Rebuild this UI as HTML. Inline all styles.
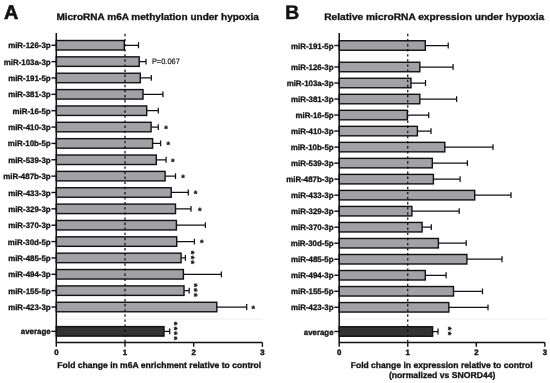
<!DOCTYPE html>
<html><head><meta charset="utf-8"><title>Figure</title>
<style>html,body{margin:0;padding:0;background:#fff}svg{display:block}</style></head>
<body>
<svg width="550" height="383" viewBox="0 0 550 383" font-family="'Liberation Sans', Arial, sans-serif" fill="#111">
<style>text{text-rendering:geometricPrecision;stroke:#111;stroke-width:0.3px;paint-order:stroke fill}text.thin{stroke:#262626;stroke-width:0.22px}text.tk{stroke-width:0.45px}text.big{stroke-width:0.35px}text.star{stroke-width:0.3px}</style>
<rect width="550" height="383" fill="#fff"/>
<text x="3.9" y="18.7" class="big" style="stroke-width:0.6px" font-size="19.8" font-weight="bold">A</text>
<text x="284.9" y="18.7" class="big" font-size="19.8" font-weight="bold">B</text>
<text x="56.4" y="19.9" font-size="9.5" font-weight="bold" textLength="202.5" lengthAdjust="spacingAndGlyphs">MicroRNA m6A methylation under hypoxia</text>
<text x="324.2" y="19.8" font-size="9.5" font-weight="bold" textLength="220" lengthAdjust="spacingAndGlyphs">Relative microRNA expression under hypoxia</text>
<line x1="58.3" y1="319.1" x2="263.40000000000003" y2="319.1" stroke="#e3e3e3" stroke-width="0.8" stroke-dasharray="2 0.6"/>
<path d="M124.5 45.25H138.5M138.5 42.35V48.15" stroke="#111111" stroke-width="1.25" fill="none"/>
<rect x="56.3" y="40.50" width="68.00" height="9.5" fill="#a2a1a5" stroke="#111111" stroke-width="1.4"/>
<line x1="51.40" y1="45.25" x2="56.3" y2="45.25" stroke="#111111" stroke-width="1.4"/>
<text x="50.70" y="48.30" text-anchor="end" font-size="7.9" font-weight="bold">miR-126-3p</text>
<path d="M139.4 61.61H146M146 58.71V64.51" stroke="#111111" stroke-width="1.25" fill="none"/>
<rect x="56.3" y="56.86" width="82.90" height="9.5" fill="#a2a1a5" stroke="#111111" stroke-width="1.4"/>
<line x1="51.40" y1="61.61" x2="56.3" y2="61.61" stroke="#111111" stroke-width="1.4"/>
<text x="50.70" y="64.66" text-anchor="end" font-size="7.9" font-weight="bold">miR-103a-3p</text>
<path d="M140.5 77.97H151.3M151.3 75.07V80.87" stroke="#111111" stroke-width="1.25" fill="none"/>
<rect x="56.3" y="73.22" width="84.00" height="9.5" fill="#a2a1a5" stroke="#111111" stroke-width="1.4"/>
<line x1="51.40" y1="77.97" x2="56.3" y2="77.97" stroke="#111111" stroke-width="1.4"/>
<text x="50.70" y="81.02" text-anchor="end" font-size="7.9" font-weight="bold">miR-191-5p</text>
<path d="M143.2 94.33H162.9M162.9 91.42999999999999V97.23" stroke="#111111" stroke-width="1.25" fill="none"/>
<rect x="56.3" y="89.58" width="86.70" height="9.5" fill="#a2a1a5" stroke="#111111" stroke-width="1.4"/>
<line x1="51.40" y1="94.33" x2="56.3" y2="94.33" stroke="#111111" stroke-width="1.4"/>
<text x="50.70" y="97.38" text-anchor="end" font-size="7.9" font-weight="bold">miR-381-3p</text>
<path d="M146.9 110.69H158.3M158.3 107.78999999999999V113.59" stroke="#111111" stroke-width="1.25" fill="none"/>
<rect x="56.3" y="105.94" width="90.40" height="9.5" fill="#a2a1a5" stroke="#111111" stroke-width="1.4"/>
<line x1="51.40" y1="110.69" x2="56.3" y2="110.69" stroke="#111111" stroke-width="1.4"/>
<text x="50.70" y="113.74" text-anchor="end" font-size="7.9" font-weight="bold">miR-16-5p</text>
<path d="M151.3 127.05H158.3M158.3 124.14999999999999V129.95" stroke="#111111" stroke-width="1.25" fill="none"/>
<rect x="56.3" y="122.30" width="94.80" height="9.5" fill="#a2a1a5" stroke="#111111" stroke-width="1.4"/>
<line x1="51.40" y1="127.05" x2="56.3" y2="127.05" stroke="#111111" stroke-width="1.4"/>
<text x="50.70" y="130.10" text-anchor="end" font-size="7.9" font-weight="bold">miR-410-3p</text>
<path d="M152.8 143.41H160.6M160.6 140.51V146.31" stroke="#111111" stroke-width="1.25" fill="none"/>
<rect x="56.3" y="138.66" width="96.30" height="9.5" fill="#a2a1a5" stroke="#111111" stroke-width="1.4"/>
<line x1="51.40" y1="143.41" x2="56.3" y2="143.41" stroke="#111111" stroke-width="1.4"/>
<text x="50.70" y="146.46" text-anchor="end" font-size="7.9" font-weight="bold">miR-10b-5p</text>
<path d="M156.5 159.76999999999998H166.1M166.1 156.86999999999998V162.67" stroke="#111111" stroke-width="1.25" fill="none"/>
<rect x="56.3" y="155.02" width="100.00" height="9.5" fill="#a2a1a5" stroke="#111111" stroke-width="1.4"/>
<line x1="51.40" y1="159.77" x2="56.3" y2="159.77" stroke="#111111" stroke-width="1.4"/>
<text x="50.70" y="162.82" text-anchor="end" font-size="7.9" font-weight="bold">miR-539-3p</text>
<path d="M165.3 176.13H175.5M175.5 173.23V179.03" stroke="#111111" stroke-width="1.25" fill="none"/>
<rect x="56.3" y="171.38" width="108.80" height="9.5" fill="#a2a1a5" stroke="#111111" stroke-width="1.4"/>
<line x1="51.40" y1="176.13" x2="56.3" y2="176.13" stroke="#111111" stroke-width="1.4"/>
<text x="50.70" y="179.18" text-anchor="end" font-size="7.9" font-weight="bold">miR-487b-3p</text>
<path d="M171.4 192.49H188.3M188.3 189.59V195.39000000000001" stroke="#111111" stroke-width="1.25" fill="none"/>
<rect x="56.3" y="187.74" width="114.90" height="9.5" fill="#a2a1a5" stroke="#111111" stroke-width="1.4"/>
<line x1="51.40" y1="192.49" x2="56.3" y2="192.49" stroke="#111111" stroke-width="1.4"/>
<text x="50.70" y="195.54" text-anchor="end" font-size="7.9" font-weight="bold">miR-433-3p</text>
<path d="M175.7 208.85H191.0M191.0 205.95V211.75" stroke="#111111" stroke-width="1.25" fill="none"/>
<rect x="56.3" y="204.10" width="119.20" height="9.5" fill="#a2a1a5" stroke="#111111" stroke-width="1.4"/>
<line x1="51.40" y1="208.85" x2="56.3" y2="208.85" stroke="#111111" stroke-width="1.4"/>
<text x="50.70" y="211.90" text-anchor="end" font-size="7.9" font-weight="bold">miR-329-3p</text>
<path d="M176.6 225.20999999999998H205.4M205.4 222.30999999999997V228.10999999999999" stroke="#111111" stroke-width="1.25" fill="none"/>
<rect x="56.3" y="220.46" width="120.10" height="9.5" fill="#a2a1a5" stroke="#111111" stroke-width="1.4"/>
<line x1="51.40" y1="225.21" x2="56.3" y2="225.21" stroke="#111111" stroke-width="1.4"/>
<text x="50.70" y="228.26" text-anchor="end" font-size="7.9" font-weight="bold">miR-370-3p</text>
<path d="M176.9 241.57H194.4M194.4 238.67V244.47" stroke="#111111" stroke-width="1.25" fill="none"/>
<rect x="56.3" y="236.82" width="120.40" height="9.5" fill="#a2a1a5" stroke="#111111" stroke-width="1.4"/>
<line x1="51.40" y1="241.57" x2="56.3" y2="241.57" stroke="#111111" stroke-width="1.4"/>
<text x="50.70" y="244.62" text-anchor="end" font-size="7.9" font-weight="bold">miR-30d-5p</text>
<path d="M181.3 257.93H185.4M185.4 255.03V260.83" stroke="#111111" stroke-width="1.25" fill="none"/>
<rect x="56.3" y="253.18" width="124.80" height="9.5" fill="#a2a1a5" stroke="#111111" stroke-width="1.4"/>
<line x1="51.40" y1="257.93" x2="56.3" y2="257.93" stroke="#111111" stroke-width="1.4"/>
<text x="50.70" y="260.98" text-anchor="end" font-size="7.9" font-weight="bold">miR-485-5p</text>
<path d="M183.6 274.28999999999996H221.4M221.4 271.39V277.18999999999994" stroke="#111111" stroke-width="1.25" fill="none"/>
<rect x="56.3" y="269.54" width="127.10" height="9.5" fill="#a2a1a5" stroke="#111111" stroke-width="1.4"/>
<line x1="51.40" y1="274.29" x2="56.3" y2="274.29" stroke="#111111" stroke-width="1.4"/>
<text x="50.70" y="277.34" text-anchor="end" font-size="7.9" font-weight="bold">miR-494-3p</text>
<path d="M184.2 290.65H189.2M189.2 287.75V293.54999999999995" stroke="#111111" stroke-width="1.25" fill="none"/>
<rect x="56.3" y="285.90" width="127.70" height="9.5" fill="#a2a1a5" stroke="#111111" stroke-width="1.4"/>
<line x1="51.40" y1="290.65" x2="56.3" y2="290.65" stroke="#111111" stroke-width="1.4"/>
<text x="50.70" y="293.70" text-anchor="end" font-size="7.9" font-weight="bold">miR-155-5p</text>
<path d="M217 307.01H246.7M246.7 304.11V309.90999999999997" stroke="#111111" stroke-width="1.25" fill="none"/>
<rect x="56.3" y="302.26" width="160.50" height="9.5" fill="#a2a1a5" stroke="#111111" stroke-width="1.4"/>
<line x1="51.40" y1="307.01" x2="56.3" y2="307.01" stroke="#111111" stroke-width="1.4"/>
<text x="50.70" y="310.06" text-anchor="end" font-size="7.9" font-weight="bold">miR-423-3p</text>
<path d="M164.2 331.35H169.7M169.7 328.45000000000005V334.25" stroke="#111111" stroke-width="1.25" fill="none"/>
<rect x="56.3" y="326.60" width="107.70" height="9.5" fill="#333333" stroke="#111111" stroke-width="1.4"/>
<line x1="51.40" y1="331.35" x2="56.3" y2="331.35" stroke="#111111" stroke-width="1.4"/>
<text x="50.70" y="334.40" text-anchor="end" font-size="7.9" font-weight="bold">average</text>
<line x1="125.00" y1="33.800000000000004" x2="125.00" y2="342.5" stroke="#111111" stroke-width="1.25" stroke-dasharray="2.4 2.7"/>
<path d="M56.3 33.1V342.5H262.40000000000003" stroke="#111111" stroke-width="1.5" fill="none"/>
<line x1="56.3" y1="342.5" x2="56.3" y2="346.8" stroke="#111111" stroke-width="1.4"/>
<text class="tk" x="56.3" y="355.3" text-anchor="middle" font-size="7.8" font-weight="bold">0</text>
<line x1="125.0" y1="342.5" x2="125.0" y2="346.8" stroke="#111111" stroke-width="1.4"/>
<text class="tk" x="125.0" y="355.3" text-anchor="middle" font-size="7.8" font-weight="bold">1</text>
<line x1="193.7" y1="342.5" x2="193.7" y2="346.8" stroke="#111111" stroke-width="1.4"/>
<text class="tk" x="193.7" y="355.3" text-anchor="middle" font-size="7.8" font-weight="bold">2</text>
<line x1="262.40000000000003" y1="342.5" x2="262.40000000000003" y2="346.8" stroke="#111111" stroke-width="1.4"/>
<text class="tk" x="262.40000000000003" y="355.3" text-anchor="middle" font-size="7.8" font-weight="bold">3</text>
<line x1="341.2" y1="319.1" x2="545.8499999999999" y2="319.1" stroke="#e3e3e3" stroke-width="0.8" stroke-dasharray="2 0.6"/>
<path d="M425.5 45.5H448.2M448.2 42.6V48.4" stroke="#111111" stroke-width="1.25" fill="none"/>
<rect x="339.2" y="40.75" width="86.10" height="9.5" fill="#a2a1a5" stroke="#111111" stroke-width="1.4"/>
<line x1="334.30" y1="45.50" x2="339.2" y2="45.50" stroke="#111111" stroke-width="1.4"/>
<text x="333.60" y="48.55" text-anchor="end" font-size="7.9" font-weight="bold">miR-191-5p</text>
<path d="M420 67.0H453.1M453.1 64.1V69.9" stroke="#111111" stroke-width="1.25" fill="none"/>
<rect x="339.2" y="62.25" width="80.60" height="9.5" fill="#a2a1a5" stroke="#111111" stroke-width="1.4"/>
<line x1="334.30" y1="67.00" x2="339.2" y2="67.00" stroke="#111111" stroke-width="1.4"/>
<text x="333.60" y="70.05" text-anchor="end" font-size="7.9" font-weight="bold">miR-126-3p</text>
<path d="M411.2 83.02H425.5M425.5 80.11999999999999V85.92" stroke="#111111" stroke-width="1.25" fill="none"/>
<rect x="339.2" y="78.27" width="71.80" height="9.5" fill="#a2a1a5" stroke="#111111" stroke-width="1.4"/>
<line x1="334.30" y1="83.02" x2="339.2" y2="83.02" stroke="#111111" stroke-width="1.4"/>
<text x="333.60" y="86.07" text-anchor="end" font-size="7.9" font-weight="bold">miR-103a-3p</text>
<path d="M420 99.03999999999999H456.6M456.6 96.13999999999999V101.94" stroke="#111111" stroke-width="1.25" fill="none"/>
<rect x="339.2" y="94.29" width="80.60" height="9.5" fill="#a2a1a5" stroke="#111111" stroke-width="1.4"/>
<line x1="334.30" y1="99.04" x2="339.2" y2="99.04" stroke="#111111" stroke-width="1.4"/>
<text x="333.60" y="102.09" text-anchor="end" font-size="7.9" font-weight="bold">miR-381-3p</text>
<path d="M407.5 115.06H428.7M428.7 112.16V117.96000000000001" stroke="#111111" stroke-width="1.25" fill="none"/>
<rect x="339.2" y="110.31" width="68.10" height="9.5" fill="#a2a1a5" stroke="#111111" stroke-width="1.4"/>
<line x1="334.30" y1="115.06" x2="339.2" y2="115.06" stroke="#111111" stroke-width="1.4"/>
<text x="333.60" y="118.11" text-anchor="end" font-size="7.9" font-weight="bold">miR-16-5p</text>
<path d="M417.6 131.07999999999998H431M431 128.17999999999998V133.98" stroke="#111111" stroke-width="1.25" fill="none"/>
<rect x="339.2" y="126.33" width="78.20" height="9.5" fill="#a2a1a5" stroke="#111111" stroke-width="1.4"/>
<line x1="334.30" y1="131.08" x2="339.2" y2="131.08" stroke="#111111" stroke-width="1.4"/>
<text x="333.60" y="134.13" text-anchor="end" font-size="7.9" font-weight="bold">miR-410-3p</text>
<path d="M445 147.1H493M493 144.2V150.0" stroke="#111111" stroke-width="1.25" fill="none"/>
<rect x="339.2" y="142.35" width="105.60" height="9.5" fill="#a2a1a5" stroke="#111111" stroke-width="1.4"/>
<line x1="334.30" y1="147.10" x2="339.2" y2="147.10" stroke="#111111" stroke-width="1.4"/>
<text x="333.60" y="150.15" text-anchor="end" font-size="7.9" font-weight="bold">miR-10b-5p</text>
<path d="M432.5 163.12H467.4M467.4 160.22V166.02" stroke="#111111" stroke-width="1.25" fill="none"/>
<rect x="339.2" y="158.37" width="93.10" height="9.5" fill="#a2a1a5" stroke="#111111" stroke-width="1.4"/>
<line x1="334.30" y1="163.12" x2="339.2" y2="163.12" stroke="#111111" stroke-width="1.4"/>
<text x="333.60" y="166.17" text-anchor="end" font-size="7.9" font-weight="bold">miR-539-3p</text>
<path d="M433.6 179.14H460.1M460.1 176.23999999999998V182.04" stroke="#111111" stroke-width="1.25" fill="none"/>
<rect x="339.2" y="174.39" width="94.20" height="9.5" fill="#a2a1a5" stroke="#111111" stroke-width="1.4"/>
<line x1="334.30" y1="179.14" x2="339.2" y2="179.14" stroke="#111111" stroke-width="1.4"/>
<text x="333.60" y="182.19" text-anchor="end" font-size="7.9" font-weight="bold">miR-487b-3p</text>
<path d="M474.9 195.16H511M511 192.26V198.06" stroke="#111111" stroke-width="1.25" fill="none"/>
<rect x="339.2" y="190.41" width="135.50" height="9.5" fill="#a2a1a5" stroke="#111111" stroke-width="1.4"/>
<line x1="334.30" y1="195.16" x2="339.2" y2="195.16" stroke="#111111" stroke-width="1.4"/>
<text x="333.60" y="198.21" text-anchor="end" font-size="7.9" font-weight="bold">miR-433-3p</text>
<path d="M412.1 211.18H459.2M459.2 208.28V214.08" stroke="#111111" stroke-width="1.25" fill="none"/>
<rect x="339.2" y="206.43" width="72.70" height="9.5" fill="#a2a1a5" stroke="#111111" stroke-width="1.4"/>
<line x1="334.30" y1="211.18" x2="339.2" y2="211.18" stroke="#111111" stroke-width="1.4"/>
<text x="333.60" y="214.23" text-anchor="end" font-size="7.9" font-weight="bold">miR-329-3p</text>
<path d="M422.3 227.2H431.3M431.3 224.29999999999998V230.1" stroke="#111111" stroke-width="1.25" fill="none"/>
<rect x="339.2" y="222.45" width="82.90" height="9.5" fill="#a2a1a5" stroke="#111111" stroke-width="1.4"/>
<line x1="334.30" y1="227.20" x2="339.2" y2="227.20" stroke="#111111" stroke-width="1.4"/>
<text x="333.60" y="230.25" text-anchor="end" font-size="7.9" font-weight="bold">miR-370-3p</text>
<path d="M438.6 243.22H466.2M466.2 240.32V246.12" stroke="#111111" stroke-width="1.25" fill="none"/>
<rect x="339.2" y="238.47" width="99.20" height="9.5" fill="#a2a1a5" stroke="#111111" stroke-width="1.4"/>
<line x1="334.30" y1="243.22" x2="339.2" y2="243.22" stroke="#111111" stroke-width="1.4"/>
<text x="333.60" y="246.27" text-anchor="end" font-size="7.9" font-weight="bold">miR-30d-5p</text>
<path d="M467.1 259.24H502M502 256.34000000000003V262.14" stroke="#111111" stroke-width="1.25" fill="none"/>
<rect x="339.2" y="254.49" width="127.70" height="9.5" fill="#a2a1a5" stroke="#111111" stroke-width="1.4"/>
<line x1="334.30" y1="259.24" x2="339.2" y2="259.24" stroke="#111111" stroke-width="1.4"/>
<text x="333.60" y="262.29" text-anchor="end" font-size="7.9" font-weight="bold">miR-485-5p</text>
<path d="M425.5 275.26H446.1M446.1 272.36V278.15999999999997" stroke="#111111" stroke-width="1.25" fill="none"/>
<rect x="339.2" y="270.51" width="86.10" height="9.5" fill="#a2a1a5" stroke="#111111" stroke-width="1.4"/>
<line x1="334.30" y1="275.26" x2="339.2" y2="275.26" stroke="#111111" stroke-width="1.4"/>
<text x="333.60" y="278.31" text-anchor="end" font-size="7.9" font-weight="bold">miR-494-3p</text>
<path d="M453.7 291.28H482.5M482.5 288.38V294.17999999999995" stroke="#111111" stroke-width="1.25" fill="none"/>
<rect x="339.2" y="286.53" width="114.30" height="9.5" fill="#a2a1a5" stroke="#111111" stroke-width="1.4"/>
<line x1="334.30" y1="291.28" x2="339.2" y2="291.28" stroke="#111111" stroke-width="1.4"/>
<text x="333.60" y="294.33" text-anchor="end" font-size="7.9" font-weight="bold">miR-155-5p</text>
<path d="M449 307.29999999999995H488M488 304.4V310.19999999999993" stroke="#111111" stroke-width="1.25" fill="none"/>
<rect x="339.2" y="302.55" width="109.60" height="9.5" fill="#a2a1a5" stroke="#111111" stroke-width="1.4"/>
<line x1="334.30" y1="307.30" x2="339.2" y2="307.30" stroke="#111111" stroke-width="1.4"/>
<text x="333.60" y="310.35" text-anchor="end" font-size="7.9" font-weight="bold">miR-423-3p</text>
<path d="M432.8 331.5H438M438 328.6V334.4" stroke="#111111" stroke-width="1.25" fill="none"/>
<rect x="339.2" y="326.75" width="93.40" height="9.5" fill="#333333" stroke="#111111" stroke-width="1.4"/>
<line x1="334.30" y1="331.50" x2="339.2" y2="331.50" stroke="#111111" stroke-width="1.4"/>
<text x="333.60" y="334.55" text-anchor="end" font-size="7.9" font-weight="bold">average</text>
<line x1="407.75" y1="33.800000000000004" x2="407.75" y2="342.5" stroke="#111111" stroke-width="1.25" stroke-dasharray="2.4 2.7"/>
<path d="M339.2 33.1V342.5H544.8499999999999" stroke="#111111" stroke-width="1.5" fill="none"/>
<line x1="339.2" y1="342.5" x2="339.2" y2="346.8" stroke="#111111" stroke-width="1.4"/>
<text class="tk" x="339.2" y="355.3" text-anchor="middle" font-size="7.8" font-weight="bold">0</text>
<line x1="407.75" y1="342.5" x2="407.75" y2="346.8" stroke="#111111" stroke-width="1.4"/>
<text class="tk" x="407.75" y="355.3" text-anchor="middle" font-size="7.8" font-weight="bold">1</text>
<line x1="476.29999999999995" y1="342.5" x2="476.29999999999995" y2="346.8" stroke="#111111" stroke-width="1.4"/>
<text class="tk" x="476.29999999999995" y="355.3" text-anchor="middle" font-size="7.8" font-weight="bold">2</text>
<line x1="544.8499999999999" y1="342.5" x2="544.8499999999999" y2="346.8" stroke="#111111" stroke-width="1.4"/>
<text class="tk" x="544.8499999999999" y="355.3" text-anchor="middle" font-size="7.8" font-weight="bold">3</text>
<text class="star" x="166.1" y="131.95" text-anchor="middle" font-size="9.2" font-weight="bold">*</text>
<text class="star" x="168.3" y="148.31" text-anchor="middle" font-size="9.2" font-weight="bold">*</text>
<text class="star" x="172.9" y="164.67" text-anchor="middle" font-size="9.2" font-weight="bold">*</text>
<text class="star" x="183.1" y="181.03" text-anchor="middle" font-size="9.2" font-weight="bold">*</text>
<text class="star" x="195.6" y="197.39" text-anchor="middle" font-size="9.2" font-weight="bold">*</text>
<text class="star" x="199.8" y="213.75" text-anchor="middle" font-size="9.2" font-weight="bold">*</text>
<text class="star" x="201.70000000000002" y="246.47" text-anchor="middle" font-size="9.2" font-weight="bold">*</text>
<text class="star" transform="translate(188.30 258.08) rotate(90)" text-anchor="middle" font-size="9.2" font-weight="bold" letter-spacing="1.3">***</text>
<text class="star" transform="translate(190.50 290.80) rotate(90)" text-anchor="middle" font-size="9.2" font-weight="bold" letter-spacing="1.3">***</text>
<text class="star" x="253.20000000000002" y="311.91" text-anchor="middle" font-size="9.2" font-weight="bold">*</text>
<text class="star" transform="translate(171.30 331.50) rotate(90)" text-anchor="middle" font-size="9.2" font-weight="bold" letter-spacing="1.3">****</text>
<text class="star" transform="translate(444.80 331.65) rotate(90)" text-anchor="middle" font-size="9.2" font-weight="bold" letter-spacing="1.3">**</text>
<text x="151.9" y="64.3" class="thin" font-size="7.8" fill="#262626" textLength="27.9" lengthAdjust="spacingAndGlyphs">P=0.067</text>
<text x="57.3" y="368.45" font-size="8.5" font-weight="bold" textLength="203.9" lengthAdjust="spacingAndGlyphs">Fold change in m6A enrichment relative to control</text>
<text x="350.7" y="368.35" font-size="8.5" font-weight="bold" textLength="182" lengthAdjust="spacingAndGlyphs">Fold change in expression relative to control</text>
<text x="388.9" y="378.2" font-size="8.5" font-weight="bold" textLength="106.5" lengthAdjust="spacingAndGlyphs">(normalized vs SNORD44)</text>
</svg>
</body></html>
